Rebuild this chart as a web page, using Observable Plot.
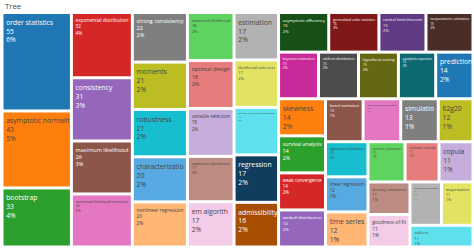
<!DOCTYPE html>
<html><head><meta charset="utf-8">
<script src="https://cdn.jsdelivr.net/npm/d3@7"></script>
<script src="https://cdn.jsdelivr.net/npm/@observablehq/plot@0.6"></script>
<style>body{margin:0;background:#fff;} svg{display:block;}</style>
</head><body><div id="chart"></div>
<script>
const rootLabel = "Tree";
const labels = [
  "order statistics", "asymptotic normality", "bootstrap",
  "exponential distribution", "consistency", "maximum likelihood", "maximum likelihood estimator",
  "strong consistency", "moments", "robustness", "characterization", "nonlinear regression",
  "empirical likelihood", "optimal design", "variable selection", "asymptotic distribution", "em algorithm",
  "estimation", "likelihood ratio test", "maximum likelihood estimation", "regression", "admissibility",
  "asymptotic efficiency", "generalized order statistics", "central limit theorem", "nonparametric estimation",
  "bayesian estimation", "uniform distribution", "hypothesis testing", "asymptotic expansion", "prediction",
  "skewness", "survival analysis", "weak convergence", "weibull distribution",
  "kernel estimation", "nonparametric regression", "simulation", "62g20",
  "eigenvalue estimation", "linear regression", "time series",
  "variance estimation", "stochastic ordering", "copula",
  "density estimation", "goodness-of-fit",
  "characteristic function", "majorization", "outliers"
];
const values = [
  55, 43, 33,
  32, 31, 26, 26,
  22, 21, 21, 20, 20,
  18, 18, 18, 17, 17,
  17, 17, 17, 17, 16,
  16, 16, 15, 15,
  15, 15, 15, 14, 14,
  14, 14, 14, 14,
  13, 13, 13, 12,
  12, 12, 12,
  12, 11, 11,
  11, 11,
  11, 11, 11
];
const colorway = ["#1f77b4", "#ff7f0e", "#2ca02c", "#d62728", "#9467bd",
                  "#8c564b", "#e377c2", "#7f7f7f", "#bcbd22", "#17becf"];

// extended colorway: base, lightened, darkened (as the treemap does)
function shiftL(hex, amt) { const c = d3.hsl(hex); c.l = Math.max(0, Math.min(1, c.l + amt)); return c.formatHex(); }
const palette = [...colorway, ...colorway.map(c => shiftL(c, 0.2)), ...colorway.map(c => shiftL(c, -0.2))];
function contrast(hex) {
  const c = d3.rgb(hex);
  const b = (c.r * 299 + c.g * 587 + c.b * 114) / 1000;
  return b < 128 ? "#ffffff" : "#444444";
}

const W = 474, H = 248;
const box = {x0: 3.5, y0: 14, x1: 471.5, y1: 245.5};
const total = d3.sum(values);

const root = d3.hierarchy({children: labels.map((name, i) => ({name, value: values[i]}))})
  .sum(d => d.value || 0)
  .sort((a, b) => b.value - a.value);
d3.treemap().tile(d3.treemapSquarify.ratio(1))
  .size([box.x1 - box.x0, box.y1 - box.y0]).paddingInner(3)(root);

const ctx = document.createElement("canvas").getContext("2d");
const FONT = '"Open Sans", verdana, arial, sans-serif';
function tw(s, size) { ctx.font = `${size}px ${FONT}`; return ctx.measureText(s).width; }
const BASE = 6.8;

const cells = root.leaves().map((n, i) => {
  const bg = palette[i % palette.length];
  const w = n.x1 - n.x0, h = n.y1 - n.y0;
  const lines = [n.data.name, String(n.data.value), Math.round(n.data.value / total * 100) + "%"];
  const maxW = d3.max(lines, s => tw(s, BASE));
  let scale = 1;
  if (maxW * 0.85 > w - 5) scale = (w - 5) / maxW;
  scale = Math.min(scale, (h - 4) / (BASE * 3.6));
  const fs = BASE * scale;
  const avail = w - 1.5;
  const fit = lines.map(s => {
    let t = s;
    while (t.length > 1 && tw(t, fs) > avail) t = t.slice(0, -1);
    return t;
  });
  return {
    x0: box.x0 + n.x0, x1: box.x0 + n.x1, y0: box.y0 + n.y0, y1: box.y0 + n.y1,
    bg, fg: contrast(bg), fs, label: fit.join("\n")
  };
});

const chart = Plot.plot({
  width: W, height: H, margin: 0,
  x: {domain: [0, W], range: [0, W], axis: null},
  y: {domain: [0, H], range: [0, H], axis: null},
  color: {type: "identity"},
  style: {fontFamily: FONT, background: "#fff"},
  marks: [
    Plot.rect(cells, {x1: "x0", x2: "x1", y1: "y0", y2: "y1", fill: "bg"}),
    Plot.text(cells, {
      x: d => d.x0 + 2.2, y: d => d.y0 + 2 + 0.3 * d.fs,
      text: "label", fill: "fg", fontSize: "fs",
      textAnchor: "start", lineAnchor: "top", lineHeight: 1.3, fontFamily: FONT
    }),
    Plot.text([rootLabel], {
      frameAnchor: "top-left", dx: 4.5, dy: 3.2, text: d => d,
      textAnchor: "start", lineAnchor: "top", fontSize: 7.8, fill: "#444", fontFamily: FONT
    })
  ]
});
document.getElementById("chart").append(chart);
</script>
</body></html>
